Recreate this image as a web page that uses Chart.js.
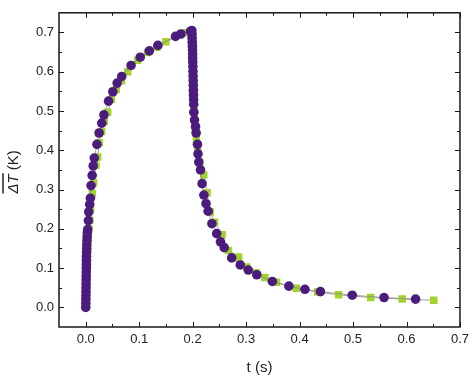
<!DOCTYPE html>
<html>
<head>
<meta charset="utf-8">
<script src="https://cdn.jsdelivr.net/npm/chart.js@4.4.0/dist/chart.umd.min.js"></script>
<style>
  html, body { margin: 0; padding: 0; background: #fff; }
</style>
</head>
<body>
<canvas id="myChart" width="474" height="377"></canvas>
<script>
// circles (purple): heating then cooling
const purpleT = [0, 0.0002, 0.0003, 0.0004, 0.0005, 0.0006, 0.0007, 0.0008, 0.0009, 0.001,
  0.0011, 0.0012, 0.0013, 0.0014, 0.0016, 0.0018, 0.002, 0.0023, 0.0026, 0.003,
  0.0037, 0.005, 0.0056, 0.0074, 0.0087, 0.010, 0.012, 0.014, 0.016, 0.021,
  0.025, 0.030, 0.034, 0.0427, 0.0507, 0.0588, 0.0673, 0.0848, 0.102, 0.119,
  0.135, 0.168, 0.178, 0.196,
  0.1985, 0.1988, 0.199, 0.1992, 0.1995, 0.1997, 0.2, 0.2, 0.2002, 0.2004,
  0.2006, 0.2008, 0.201, 0.2012, 0.2014, 0.2016, 0.2018, 0.202,
  0.2022, 0.2035, 0.2054, 0.2065, 0.209, 0.210, 0.2115, 0.2147, 0.2177, 0.221,
  0.225, 0.229, 0.236, 0.245, 0.252, 0.259, 0.273, 0.289, 0.304, 0.32,
  0.349, 0.38, 0.41, 0.439, 0.4985, 0.558, 0.617];
const purpleV = [0, 0.01, 0.02, 0.03, 0.04, 0.05, 0.06, 0.07, 0.08, 0.09,
  0.10, 0.11, 0.12, 0.13, 0.14, 0.15, 0.16, 0.17, 0.18, 0.19,
  0.198, 0.221, 0.243, 0.262, 0.278, 0.31, 0.336, 0.36, 0.38, 0.415,
  0.444, 0.469, 0.49, 0.525, 0.549, 0.571, 0.588, 0.616, 0.637, 0.653,
  0.667, 0.69, 0.696, 0.703,
  0.705, 0.695, 0.685, 0.675, 0.665, 0.655, 0.645, 0.635, 0.625, 0.613,
  0.601, 0.589, 0.577, 0.565, 0.553, 0.541, 0.529, 0.517,
  0.497, 0.477, 0.46, 0.444, 0.415, 0.391, 0.37, 0.35, 0.315, 0.286,
  0.264, 0.245, 0.213, 0.188, 0.167, 0.152, 0.126, 0.108, 0.095, 0.083,
  0.066, 0.054, 0.046, 0.040, 0.031, 0.025, 0.021];

// squares (green)
const greenT = [0, 0.0004, 0.0008, 0.0012, 0.0018, 0.0025, 0.0035, 0.0045, 0.006, 0.0075,
  0.009, 0.0124, 0.0148, 0.019, 0.0223, 0.0254, 0.0297, 0.0347, 0.041, 0.048,
  0.057, 0.067, 0.0785, 0.097, 0.1157, 0.133, 0.150, 0.187,
  0.200, 0.2002, 0.2004, 0.2006, 0.2008, 0.201, 0.2013, 0.2016, 0.202, 0.2025,
  0.2035, 0.205, 0.207, 0.2095, 0.213, 0.2208, 0.227, 0.233, 0.241, 0.255,
  0.267, 0.286, 0.301, 0.318, 0.335, 0.357, 0.394, 0.434, 0.473, 0.533,
  0.592, 0.651];
const greenV = [0, 0.025, 0.05, 0.075, 0.10, 0.125, 0.15, 0.175, 0.2, 0.222,
  0.25, 0.29, 0.317, 0.362, 0.383, 0.419, 0.448, 0.473, 0.497, 0.53,
  0.555, 0.577, 0.6, 0.629, 0.649, 0.662, 0.676, 0.699,
  0.69, 0.67, 0.65, 0.63, 0.61, 0.59, 0.57, 0.55, 0.53, 0.51,
  0.485, 0.455, 0.428, 0.40, 0.37, 0.337, 0.292, 0.243, 0.217, 0.185,
  0.145, 0.128, 0.103, 0.088, 0.076, 0.064, 0.0485, 0.039, 0.032, 0.025,
  0.021, 0.018];

// axis ticks
const xTicks = [0, 0.1, 0.2, 0.3, 0.4, 0.5, 0.6, 0.7];
const xMinor = [0.05, 0.15, 0.25, 0.35, 0.45, 0.55, 0.65];
const yTicks = [0, 0.1, 0.2, 0.3, 0.4, 0.5, 0.6, 0.7];
const yMinor = [0.05, 0.15, 0.25, 0.35, 0.45, 0.55, 0.65];

const txt = "#222";
const fam = "'Liberation Sans', Arial, sans-serif";

const pts = (ts, vs) => ts.map((t, i) => ({ x: t, y: vs[i] }));

// frame, inward ticks on all four sides, and the y title
const framePlugin = {
  id: "frame",
  afterDatasetsDraw(chart) {
    const { ctx, chartArea: a, scales: { x, y } } = chart;
    ctx.save();
    ctx.strokeStyle = "#1a1a1a";
    ctx.lineWidth = 1;
    const seg = (x1, y1, x2, y2) => {
      ctx.beginPath();
      ctx.moveTo(x1, y1);
      ctx.lineTo(x2, y2);
      ctx.stroke();
    };
    xTicks.forEach(v => {
      const p = Math.round(x.getPixelForValue(v)) + 0.5;
      seg(p, a.bottom, p, a.bottom - 5);
      seg(p, a.top, p, a.top + 5);
    });
    xMinor.forEach(v => {
      const p = Math.round(x.getPixelForValue(v)) + 0.5;
      seg(p, a.bottom, p, a.bottom - 3);
      seg(p, a.top, p, a.top + 3);
    });
    yTicks.forEach(v => {
      const p = Math.round(y.getPixelForValue(v)) + 0.5;
      seg(a.left, p, a.left + 5, p);
      seg(a.right, p, a.right - 5, p);
    });
    yMinor.forEach(v => {
      const p = Math.round(y.getPixelForValue(v)) + 0.5;
      seg(a.left, p, a.left + 3, p);
      seg(a.right, p, a.right - 3, p);
    });
    ctx.lineWidth = 1.5;
    ctx.strokeRect(a.left, a.top, a.right - a.left, a.bottom - a.top);

    // y axis title: overlined italic ΔT then (K)
    ctx.translate(14, (a.top + a.bottom) / 2 + 2);
    ctx.rotate(-Math.PI / 2);
    ctx.fillStyle = txt;
    ctx.textBaseline = "middle";
    ctx.font = "italic 15px " + fam;
    const w1 = ctx.measureText("\u0394T").width;
    ctx.font = "15px " + fam;
    const w2 = ctx.measureText(" (K)").width;
    const x0 = -(w1 + w2) / 2;
    ctx.font = "italic 15px " + fam;
    ctx.textAlign = "left";
    ctx.fillText("\u0394T", x0, 0);
    ctx.font = "15px " + fam;
    ctx.fillText(" (K)", x0 + w1, 0);
    ctx.lineWidth = 1.5;
    ctx.strokeStyle = txt;
    seg(x0, -11, x0 + w1 + 1, -11);
    ctx.restore();
  }
};

const canvas = document.getElementById("myChart");

new Chart(canvas, {
  type: "scatter",
  data: {
    datasets: [
      {
        label: "circles",
        data: pts(purpleT, purpleV),
        showLine: true,
        borderColor: "#8c8c8c",
        borderWidth: 0.8,
        pointStyle: "circle",
        pointRadius: 4.8,
        pointBackgroundColor: "#4b1c7e",
        pointBorderColor: "#4b1c7e",
        pointBorderWidth: 0,
      },
      {
        label: "squares",
        data: pts(greenT, greenV),
        showLine: true,
        borderColor: "#8c8c8c",
        borderWidth: 0.8,
        pointStyle: "rect",
        pointRadius: 5.3,
        pointBackgroundColor: "#a2d22c",
        pointBorderColor: "#a2d22c",
        pointBorderWidth: 0,
      },
    ],
  },
  options: {
    responsive: false,
    animation: false,
    layout: { padding: { top: 2, right: 11, left: 0, bottom: 0 } },
    plugins: {
      legend: { display: false },
      tooltip: { enabled: false },
    },
    scales: {
      x: {
        type: "linear",
        min: -0.05,
        max: 0.7,
        afterBuildTicks: (s) => { s.ticks = xTicks.map(v => ({ value: v })); },
        afterFit: (s) => { s.height = 50; },
        ticks: {
          callback: (v) => Number(v).toFixed(1),
          color: txt,
          font: { size: 13, family: fam },
          padding: 5,
          maxRotation: 0,
          autoSkip: false,
        },
        grid: { display: false, drawTicks: false },
        border: { display: false },
        title: {
          display: true,
          text: "t (s)",
          color: txt,
          font: { size: 15, family: fam },
          padding: 0,
        },
      },
      y: {
        type: "linear",
        min: -0.05,
        max: 0.75,
        afterBuildTicks: (s) => { s.ticks = yTicks.map(v => ({ value: v })); },
        afterFit: (s) => { s.width = 59; },
        ticks: {
          callback: (v) => Number(v).toFixed(1),
          color: txt,
          font: { size: 13, family: fam },
          padding: 5,
        },
        grid: { display: false, drawTicks: false },
        border: { display: false },
      },
    },
  },
  plugins: [framePlugin],
});
</script>
</body>
</html>
